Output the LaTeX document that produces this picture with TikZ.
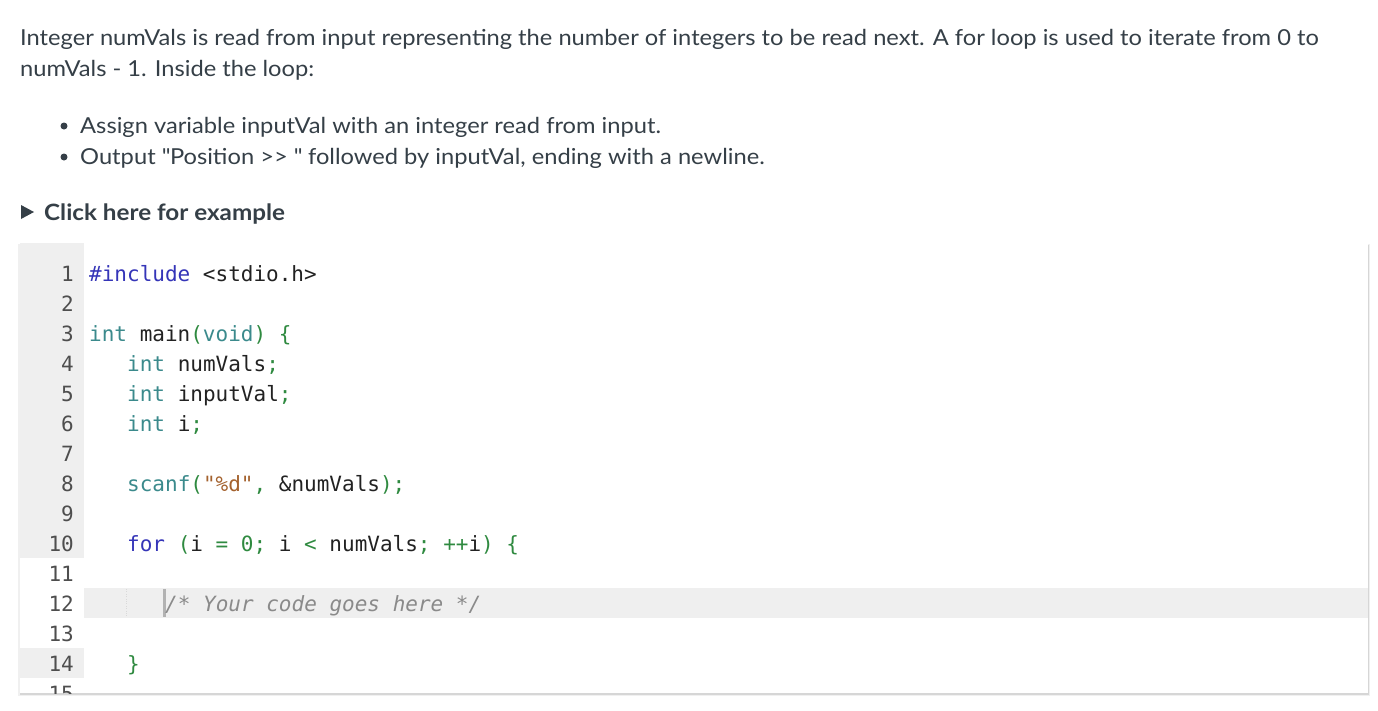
\documentclass[tikz,border=0pt]{standalone}
\usepackage{fontspec}
\setmainfont{Lato}[FakeStretch=1.077]
\newfontfamily\heavy{Lato Black}[FakeStretch=1.0]
\setmonofont{DejaVu Sans Mono}
\definecolor{txt}{HTML}{353F47}
\definecolor{gut}{HTML}{EFEFEF}
\definecolor{kw}{HTML}{3535B8}
\definecolor{ty}{HTML}{3B8A8C}
\definecolor{pn}{HTML}{2F8A40}
\definecolor{st}{HTML}{A4622E}
\definecolor{cm}{HTML}{8A8A8A}
\definecolor{cd}{HTML}{222222}
\begin{document}
\begin{tikzpicture}[x=1pt,y=-1pt,
  para/.style={anchor=base west,inner sep=0pt,text=txt,font=\fontsize{22}{26}\selectfont},
  code/.style={anchor=base west,inner sep=0pt,text=cd,font=\ttfamily\fontsize{21}{24}\selectfont},
  lnum/.style={anchor=base east,inner sep=0pt,text=cd!80,font=\ttfamily\fontsize{21}{24}\selectfont}]
\useasboundingbox[fill=white] (0,0) rectangle (1378,710);
\node[para] (p1) at (20,45) {Integer numVals is read from input representing the number of integers to be read next. A for loop is used to iterate from 0 to};
\node[para] (p2) at (20,76) {numVals - 1. Inside the loop:};
\fill[txt] (64,126) circle (3.5);
\fill[txt] (64,157) circle (3.5);
\node[para] (b1) at (80,133) {Assign variable inputVal with an integer read from input.};
\node[para] (b2) at (80,164) {Output \textquotedbl Position {>}{>} \textquotedbl\ followed by inputVal, ending with a newline.};
\fill[txt] (21,205) -- (34,212) -- (21,219) -- cycle;
\node[para,font=\bfseries\fontsize{22.5}{26}\selectfont] (cl) at (44,220) {Click here for example};
% editor
\fill[black!6] (18,244) rectangle (1370,696);
\fill[black!16] (19.5,245) rectangle (1368.5,694.5);
\fill[white] (20,243) rectangle (1368,693);
\fill[gut] (20,243) rectangle (84,558);
\fill[gut] (20,648) rectangle (84,678);
\fill[gut] (84,588) rectangle (1368,618);
\draw[black!15,dotted] (126,589) -- (126,617);
\fill[black!30] (163,589) rectangle (166,617);
\foreach \n in {1,...,14}{
  \node[lnum] (l\n) at (74,{281+30*(\n-1)}) {\n};
}
\begin{scope}
\clip (20,243) rectangle (1368,693);
\node[lnum] (l15) at (74,701) {15};
\end{scope}
\node[code] (c1) at (89,281) {\textcolor{kw}{\#include} <stdio.h>};
\node[code] (c3) at (89,341) {\textcolor{ty}{int} main\textcolor{pn}{(}\textcolor{ty}{void}\textcolor{pn}{) \{}};
\node[code] (c4) at (127,371) {\textcolor{ty}{int} numVals\textcolor{pn}{;}};
\node[code] (c5) at (127,401) {\textcolor{ty}{int} inputVal\textcolor{pn}{;}};
\node[code] (c6) at (127,431) {\textcolor{ty}{int} i\textcolor{pn}{;}};
\node[code] (c8) at (127,491) {\textcolor{ty}{scanf}\textcolor{pn}{(}\textcolor{st}{"\%d"}\textcolor{pn}{,} \&numVals\textcolor{pn}{);}};
\node[code] (c10) at (127,551) {\textcolor{kw}{for} \textcolor{pn}{(}i \textcolor{pn}{=} \textcolor{pn}{0;} i \textcolor{pn}{<} numVals\textcolor{pn}{;} \textcolor{pn}{++}i\textcolor{pn}{) \{}};
\node[code,text=cm,font=\ttfamily\itshape\fontsize{21}{24}\selectfont] (c12) at (165,611) {/* Your code goes here */};
\node[code] (c14) at (127,671) {\textcolor{pn}{\}}};
\end{tikzpicture}
\end{document}
